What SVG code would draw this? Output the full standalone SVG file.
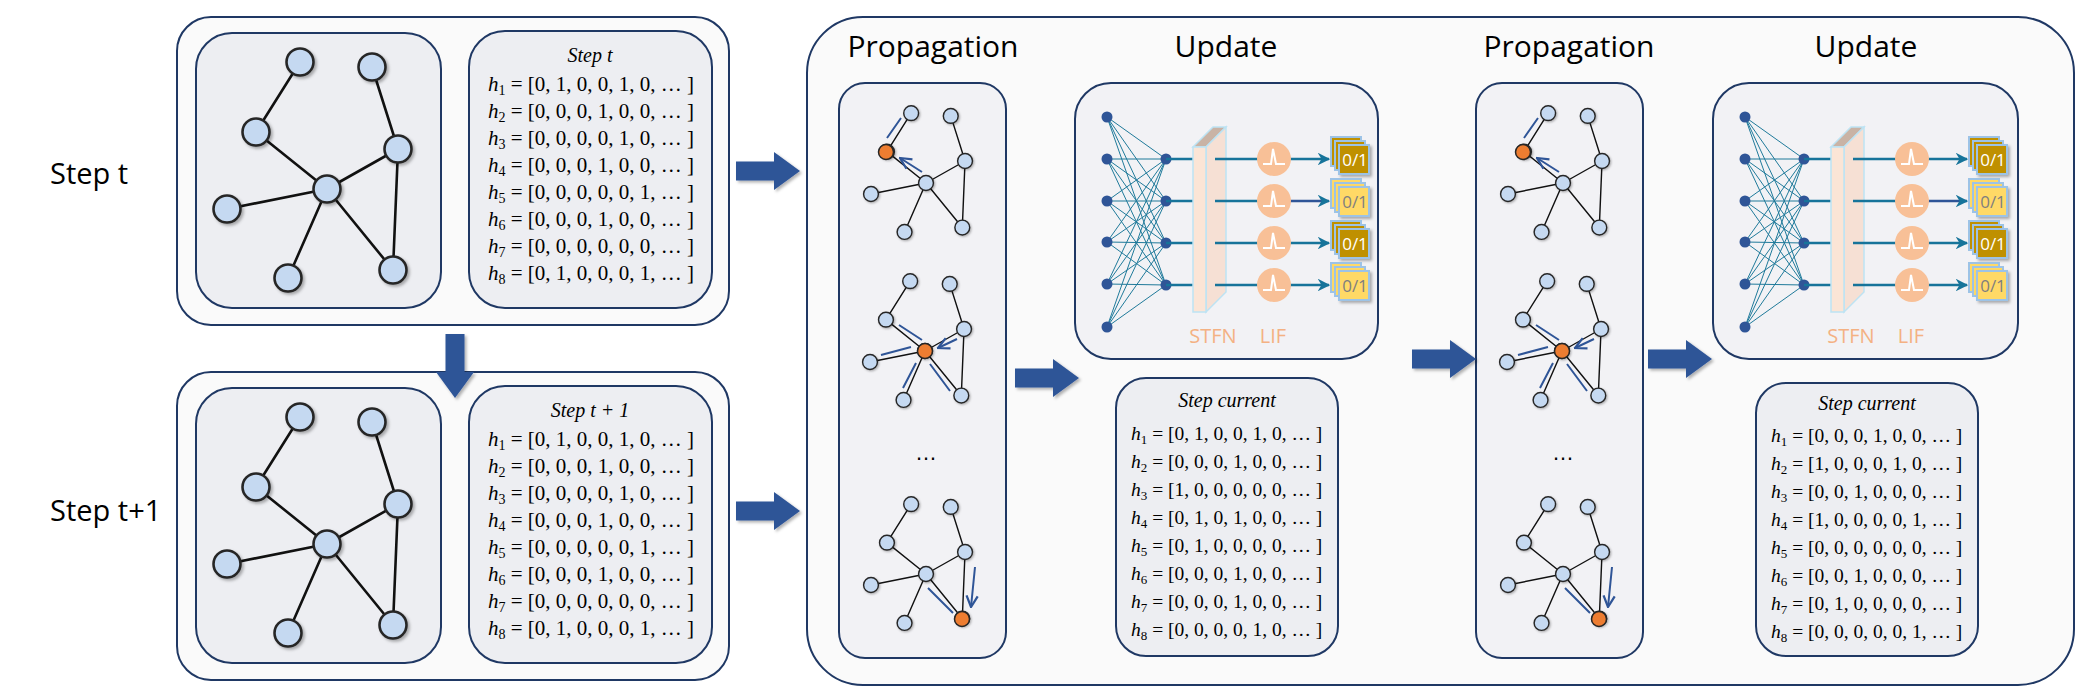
<svg xmlns="http://www.w3.org/2000/svg" xmlns:xlink="http://www.w3.org/1999/xlink" width="2087" height="698" viewBox="0 0 2087 698">
<style>
.outer{fill:#FAFAFA;stroke:#1F3864;stroke-width:2}
.inner{fill:#EDEEF2;stroke:#1F3864;stroke-width:2}
.lbl{font-family:"Open Sans","Liberation Sans",sans-serif;font-size:29px;fill:#000}
.hdr{font-family:"Open Sans","Liberation Sans",sans-serif;font-size:30px;fill:#000;text-anchor:middle}
.m{font-family:"Liberation Serif",serif;font-size:21px;fill:#000}
.mc{font-family:"Liberation Serif",serif;font-size:19.5px;fill:#000}
.i{font-style:italic}
.ttl{font-family:"Liberation Serif",serif;font-size:20px;font-style:italic;text-anchor:middle}
.edge{stroke:#111;stroke-width:2.6;fill:none}
.node{fill:#C5D9F1;stroke:#262626;stroke-width:2.6}
.org{fill:#ED7D31;stroke:#262626;stroke-width:1.5}
.parr{stroke:#2F5597;stroke-width:2;fill:none;marker-end:url(#oh)}
.fc{stroke:#1F7A9A;stroke-width:1;fill:none}
.hl{stroke:#17749A;stroke-width:2.5;fill:none}
.dn{fill:#2F5597}
.big{fill:#2F5597}
.orl{font-family:"Open Sans","Liberation Sans",sans-serif;font-size:20px;fill:#F4B183;text-anchor:middle}
.o1{font-family:"Open Sans","Liberation Sans",sans-serif;font-size:17px;text-anchor:middle}
</style>
<defs>
<filter id="sh" x="-20%" y="-20%" width="150%" height="150%"><feDropShadow dx="2" dy="2" stdDeviation="1.5" flood-opacity="0.3"/></filter>
<marker id="oh" viewBox="0 0 10 10" refX="9" refY="5" markerWidth="7" markerHeight="7" orient="auto"><path d="M1,1 L9,5 L1,9" fill="none" stroke="#2F5597" stroke-width="1.6"/></marker>
<marker id="ta" viewBox="0 0 10 10" refX="9" refY="5" markerWidth="5" markerHeight="5" orient="auto"><path d="M0,0 L10,5 L0,10 L3,5z" fill="#17749A"/></marker>
<path id="bigR" d="M0,-9.5 H38 V-19 L64,0 L38,19 V9.5 H0z"/>
<g id="gr">
<path class="edge" d="M-27,-127 L-71,-57 M45,-122 L71,-40 M-71,-57 L0,0 M71,-40 L0,0 M-100,20 L0,0 M0,0 L-39,89 M0,0 L66,81 M71,-40 L66,81"/>
<g class="node" filter="url(#sh)">
<circle cx="-27" cy="-127" r="13.5"/><circle cx="45" cy="-122" r="13.5"/><circle cx="-71" cy="-57" r="13.5"/><circle cx="71" cy="-40" r="13.5"/><circle cx="0" cy="0" r="13.5"/><circle cx="-100" cy="20" r="13.5"/><circle cx="-39" cy="89" r="13.5"/><circle cx="66" cy="81" r="13.5"/>
</g>
</g>
<g id="stackD"><rect x="0" y="0" width="30" height="29" fill="#BF9000" stroke="#9DC3E6" stroke-width="2"/><rect x="4" y="4" width="30" height="29" fill="#BF9000" stroke="#9DC3E6" stroke-width="2"/><rect x="8" y="8" width="30" height="29" fill="#BF9000" stroke="#9DC3E6" stroke-width="2" filter="url(#sh)"/><text class="o1" x="24" y="29" fill="#FFFFFF">0/1</text></g>
<g id="stackL"><rect x="0" y="0" width="30" height="29" fill="#FFD966" stroke="#9DC3E6" stroke-width="2"/><rect x="4" y="4" width="30" height="29" fill="#FFD966" stroke="#9DC3E6" stroke-width="2"/><rect x="8" y="8" width="30" height="29" fill="#FFD966" stroke="#9DC3E6" stroke-width="2" filter="url(#sh)"/><text class="o1" x="24" y="29" fill="#7F7F7F">0/1</text></g>
<g id="lif"><circle r="17" fill="#F8C097"/><path d="M-11,5 H-3 L-1,-10 L2,5 H11" fill="none" stroke="#fff" stroke-width="2"/></g>
<g id="upd">
<path class="fc" d="M1107,117 L1166,159 M1107,117 L1166,201 M1107,117 L1166,243 M1107,117 L1166,285 M1107,159 L1166,159 M1107,159 L1166,201 M1107,159 L1166,243 M1107,159 L1166,285 M1107,201 L1166,159 M1107,201 L1166,201 M1107,201 L1166,243 M1107,201 L1166,285 M1107,242 L1166,159 M1107,242 L1166,201 M1107,242 L1166,243 M1107,242 L1166,285 M1107,284 L1166,159 M1107,284 L1166,201 M1107,284 L1166,243 M1107,284 L1166,285 M1107,327 L1166,159 M1107,327 L1166,201 M1107,327 L1166,243 M1107,327 L1166,285"/>
<g class="dn"><circle cx="1107" cy="117" r="5.5"/><circle cx="1107" cy="159" r="5.5"/><circle cx="1107" cy="201" r="5.5"/><circle cx="1107" cy="242" r="5.5"/><circle cx="1107" cy="284" r="5.5"/><circle cx="1107" cy="327" r="5.5"/><circle cx="1166" cy="159" r="5.5"/><circle cx="1166" cy="201" r="5.5"/><circle cx="1166" cy="243" r="5.5"/><circle cx="1166" cy="285" r="5.5"/></g>
<path class="hl" d="M1166,159 H1193 M1166,201 H1193 M1166,243 H1193 M1166,285 H1193"/>
<path d="M1193,147 L1213,127 H1226 L1206,147z" fill="#C9B3A5" stroke="#BDE3F3" stroke-width="1.5"/>
<path d="M1206,147 L1226,127 V292 L1206,312z" fill="#F6E0D4" stroke="#BDE3F3" stroke-width="1.5"/>
<rect x="1193" y="147" width="13" height="165" fill="#FBE5D6" stroke="#BDE3F3" stroke-width="1.5"/>
<path class="hl" d="M1215,159 H1258 M1215,201 H1258 M1215,243 H1258 M1215,285 H1258"/>
<path class="hl" marker-end="url(#ta)" d="M1290,159 H1329"/>
<path class="hl" marker-end="url(#ta)" d="M1290,201 H1329" style="stroke:#2F5597"/>
<path class="hl" marker-end="url(#ta)" d="M1290,243 H1329"/>
<path class="hl" marker-end="url(#ta)" d="M1290,285 H1329"/>
<use href="#lif" x="1274" y="159"/><use href="#lif" x="1274" y="201"/><use href="#lif" x="1274" y="243"/><use href="#lif" x="1274" y="285"/>
<use href="#stackD" x="1331" y="137"/><use href="#stackL" x="1331" y="179"/><use href="#stackD" x="1331" y="221"/><use href="#stackL" x="1331" y="263"/>
<text class="orl" x="1213" y="343">STFN</text><text class="orl" x="1273" y="343">LIF</text>
</g>
</defs>

<text class="lbl" x="50" y="184">Step t</text>
<text class="lbl" x="50" y="521">Step t+1</text>

<g id="stepT">
<rect class="outer" x="177" y="17" width="552" height="308" rx="34"/>
<rect class="inner" x="196" y="33" width="245" height="275" rx="36"/>
<use href="#gr" x="327" y="189"/>
<rect class="inner" x="469" y="31" width="243" height="277" rx="36"/>
<text class="ttl" x="590" y="62">Step t</text>
<g class="m">
<text x="488" y="91"><tspan class="i">h</tspan><tspan font-size="14" dy="4">1</tspan><tspan dy="-4"> = [0, 1, 0, 0, 1, 0, … ]</tspan></text>
<text x="488" y="118"><tspan class="i">h</tspan><tspan font-size="14" dy="4">2</tspan><tspan dy="-4"> = [0, 0, 0, 1, 0, 0, … ]</tspan></text>
<text x="488" y="145"><tspan class="i">h</tspan><tspan font-size="14" dy="4">3</tspan><tspan dy="-4"> = [0, 0, 0, 0, 1, 0, … ]</tspan></text>
<text x="488" y="172"><tspan class="i">h</tspan><tspan font-size="14" dy="4">4</tspan><tspan dy="-4"> = [0, 0, 0, 1, 0, 0, … ]</tspan></text>
<text x="488" y="199"><tspan class="i">h</tspan><tspan font-size="14" dy="4">5</tspan><tspan dy="-4"> = [0, 0, 0, 0, 0, 1, … ]</tspan></text>
<text x="488" y="226"><tspan class="i">h</tspan><tspan font-size="14" dy="4">6</tspan><tspan dy="-4"> = [0, 0, 0, 1, 0, 0, … ]</tspan></text>
<text x="488" y="253"><tspan class="i">h</tspan><tspan font-size="14" dy="4">7</tspan><tspan dy="-4"> = [0, 0, 0, 0, 0, 0, … ]</tspan></text>
<text x="488" y="280"><tspan class="i">h</tspan><tspan font-size="14" dy="4">8</tspan><tspan dy="-4"> = [0, 1, 0, 0, 0, 1, … ]</tspan></text>
</g>
</g>

<g id="stepT1">
<rect class="outer" x="177" y="372" width="552" height="308" rx="34"/>
<rect class="inner" x="196" y="388" width="245" height="275" rx="36"/>
<use href="#gr" x="327" y="544"/>
<rect class="inner" x="469" y="386" width="243" height="277" rx="36"/>
<text class="ttl" x="590" y="417">Step t + 1</text>
<g class="m">
<text x="488" y="446"><tspan class="i">h</tspan><tspan font-size="14" dy="4">1</tspan><tspan dy="-4"> = [0, 1, 0, 0, 1, 0, … ]</tspan></text>
<text x="488" y="473"><tspan class="i">h</tspan><tspan font-size="14" dy="4">2</tspan><tspan dy="-4"> = [0, 0, 0, 1, 0, 0, … ]</tspan></text>
<text x="488" y="500"><tspan class="i">h</tspan><tspan font-size="14" dy="4">3</tspan><tspan dy="-4"> = [0, 0, 0, 0, 1, 0, … ]</tspan></text>
<text x="488" y="527"><tspan class="i">h</tspan><tspan font-size="14" dy="4">4</tspan><tspan dy="-4"> = [0, 0, 0, 1, 0, 0, … ]</tspan></text>
<text x="488" y="554"><tspan class="i">h</tspan><tspan font-size="14" dy="4">5</tspan><tspan dy="-4"> = [0, 0, 0, 0, 0, 1, … ]</tspan></text>
<text x="488" y="581"><tspan class="i">h</tspan><tspan font-size="14" dy="4">6</tspan><tspan dy="-4"> = [0, 0, 0, 1, 0, 0, … ]</tspan></text>
<text x="488" y="608"><tspan class="i">h</tspan><tspan font-size="14" dy="4">7</tspan><tspan dy="-4"> = [0, 0, 0, 0, 0, 0, … ]</tspan></text>
<text x="488" y="635"><tspan class="i">h</tspan><tspan font-size="14" dy="4">8</tspan><tspan dy="-4"> = [0, 1, 0, 0, 0, 1, … ]</tspan></text>
</g>
</g>

<g id="panel">
<rect class="outer" x="807" y="17" width="1267" height="668" rx="56"/>
<text class="hdr" x="933" y="57">Propagation</text>
<text class="hdr" x="1226" y="57">Update</text>
<text class="hdr" x="1569" y="57">Propagation</text>
<text class="hdr" x="1866" y="57">Update</text>
</g>

<g id="prop1">
<rect class="inner" x="839" y="83" width="167" height="575" rx="26" style="fill:#F2F2F5"/>
<use href="#gr" transform="translate(926,183) scale(0.55)"/>
<circle class="org" cx="886" cy="152" r="7.5"/>
<path class="parr" d="M901,118 L887,138 M922,172 L900,158"/>
<use href="#gr" transform="translate(925,351) scale(0.55)"/>
<circle class="org" cx="925" cy="351" r="7.5"/>
<path class="parr" d="M899,325 L922,340 M881,355 L911,347 M903,388 L916,363 M950,391 L930,364 M957,339 L938,348"/>
<text x="926" y="460" font-family="Liberation Sans,sans-serif" font-size="22" text-anchor="middle">…</text>
<use href="#gr" transform="translate(926,574) scale(0.55)"/>
<circle class="org" cx="962" cy="619" r="7.5"/>
<path class="parr" d="M928,588 L953,613 M975,567 L971,607"/>
</g>

<g id="update1">
<rect class="inner" x="1075" y="83" width="303" height="276" rx="36" style="fill:#F2F2F5"/>
<use href="#upd"/>
</g>

<g id="current1">
<rect class="inner" x="1116" y="378" width="222" height="278" rx="30"/>
<text class="ttl" x="1227" y="407">Step current</text>
<g class="mc">
<text x="1131" y="440"><tspan class="i">h</tspan><tspan font-size="13" dy="4">1</tspan><tspan dy="-4"> = [0, 1, 0, 0, 1, 0, … ]</tspan></text>
<text x="1131" y="468"><tspan class="i">h</tspan><tspan font-size="13" dy="4">2</tspan><tspan dy="-4"> = [0, 0, 0, 1, 0, 0, … ]</tspan></text>
<text x="1131" y="496"><tspan class="i">h</tspan><tspan font-size="13" dy="4">3</tspan><tspan dy="-4"> = [1, 0, 0, 0, 0, 0, … ]</tspan></text>
<text x="1131" y="524"><tspan class="i">h</tspan><tspan font-size="13" dy="4">4</tspan><tspan dy="-4"> = [0, 1, 0, 1, 0, 0, … ]</tspan></text>
<text x="1131" y="552"><tspan class="i">h</tspan><tspan font-size="13" dy="4">5</tspan><tspan dy="-4"> = [0, 1, 0, 0, 0, 0, … ]</tspan></text>
<text x="1131" y="580"><tspan class="i">h</tspan><tspan font-size="13" dy="4">6</tspan><tspan dy="-4"> = [0, 0, 0, 1, 0, 0, … ]</tspan></text>
<text x="1131" y="608"><tspan class="i">h</tspan><tspan font-size="13" dy="4">7</tspan><tspan dy="-4"> = [0, 0, 0, 1, 0, 0, … ]</tspan></text>
<text x="1131" y="636"><tspan class="i">h</tspan><tspan font-size="13" dy="4">8</tspan><tspan dy="-4"> = [0, 0, 0, 0, 1, 0, … ]</tspan></text>
</g>
</g>

<g id="prop2">
<rect class="inner" x="1476" y="83" width="167" height="575" rx="26" style="fill:#F2F2F5"/>
<g transform="translate(637,0)">
<use href="#gr" transform="translate(926,183) scale(0.55)"/>
<circle class="org" cx="886" cy="152" r="7.5"/>
<path class="parr" d="M901,118 L887,138 M922,172 L900,158"/>
<use href="#gr" transform="translate(925,351) scale(0.55)"/>
<circle class="org" cx="925" cy="351" r="7.5"/>
<path class="parr" d="M899,325 L922,340 M881,355 L911,347 M903,388 L916,363 M950,391 L930,364 M957,339 L938,348"/>
<text x="926" y="460" font-family="Liberation Sans,sans-serif" font-size="22" text-anchor="middle">…</text>
<use href="#gr" transform="translate(926,574) scale(0.55)"/>
<circle class="org" cx="962" cy="619" r="7.5"/>
<path class="parr" d="M928,588 L953,613 M975,567 L971,607"/>
</g>
</g>

<g id="update2">
<rect class="inner" x="1713" y="83" width="305" height="276" rx="36" style="fill:#F2F2F5"/>
<use href="#upd" x="638"/>
</g>

<g id="current2">
<rect class="inner" x="1756" y="383" width="222" height="273" rx="30"/>
<text class="ttl" x="1867" y="410">Step current</text>
<g class="mc">
<text x="1771" y="442"><tspan class="i">h</tspan><tspan font-size="13" dy="4">1</tspan><tspan dy="-4"> = [0, 0, 0, 1, 0, 0, … ]</tspan></text>
<text x="1771" y="470"><tspan class="i">h</tspan><tspan font-size="13" dy="4">2</tspan><tspan dy="-4"> = [1, 0, 0, 0, 1, 0, … ]</tspan></text>
<text x="1771" y="498"><tspan class="i">h</tspan><tspan font-size="13" dy="4">3</tspan><tspan dy="-4"> = [0, 0, 1, 0, 0, 0, … ]</tspan></text>
<text x="1771" y="526"><tspan class="i">h</tspan><tspan font-size="13" dy="4">4</tspan><tspan dy="-4"> = [1, 0, 0, 0, 0, 1, … ]</tspan></text>
<text x="1771" y="554"><tspan class="i">h</tspan><tspan font-size="13" dy="4">5</tspan><tspan dy="-4"> = [0, 0, 0, 0, 0, 0, … ]</tspan></text>
<text x="1771" y="582"><tspan class="i">h</tspan><tspan font-size="13" dy="4">6</tspan><tspan dy="-4"> = [0, 0, 1, 0, 0, 0, … ]</tspan></text>
<text x="1771" y="610"><tspan class="i">h</tspan><tspan font-size="13" dy="4">7</tspan><tspan dy="-4"> = [0, 1, 0, 0, 0, 0, … ]</tspan></text>
<text x="1771" y="638"><tspan class="i">h</tspan><tspan font-size="13" dy="4">8</tspan><tspan dy="-4"> = [0, 0, 0, 0, 0, 1, … ]</tspan></text>
</g>
</g>

<g id="connectors" class="big" filter="url(#sh)">
<use href="#bigR" transform="translate(455,334) rotate(90)"/>
<use href="#bigR" transform="translate(736,171)"/>
<use href="#bigR" transform="translate(736,511)"/>
<use href="#bigR" transform="translate(1015,378)"/>
<use href="#bigR" transform="translate(1412,359)"/>
<use href="#bigR" transform="translate(1648,359)"/>
</g>
</svg>
